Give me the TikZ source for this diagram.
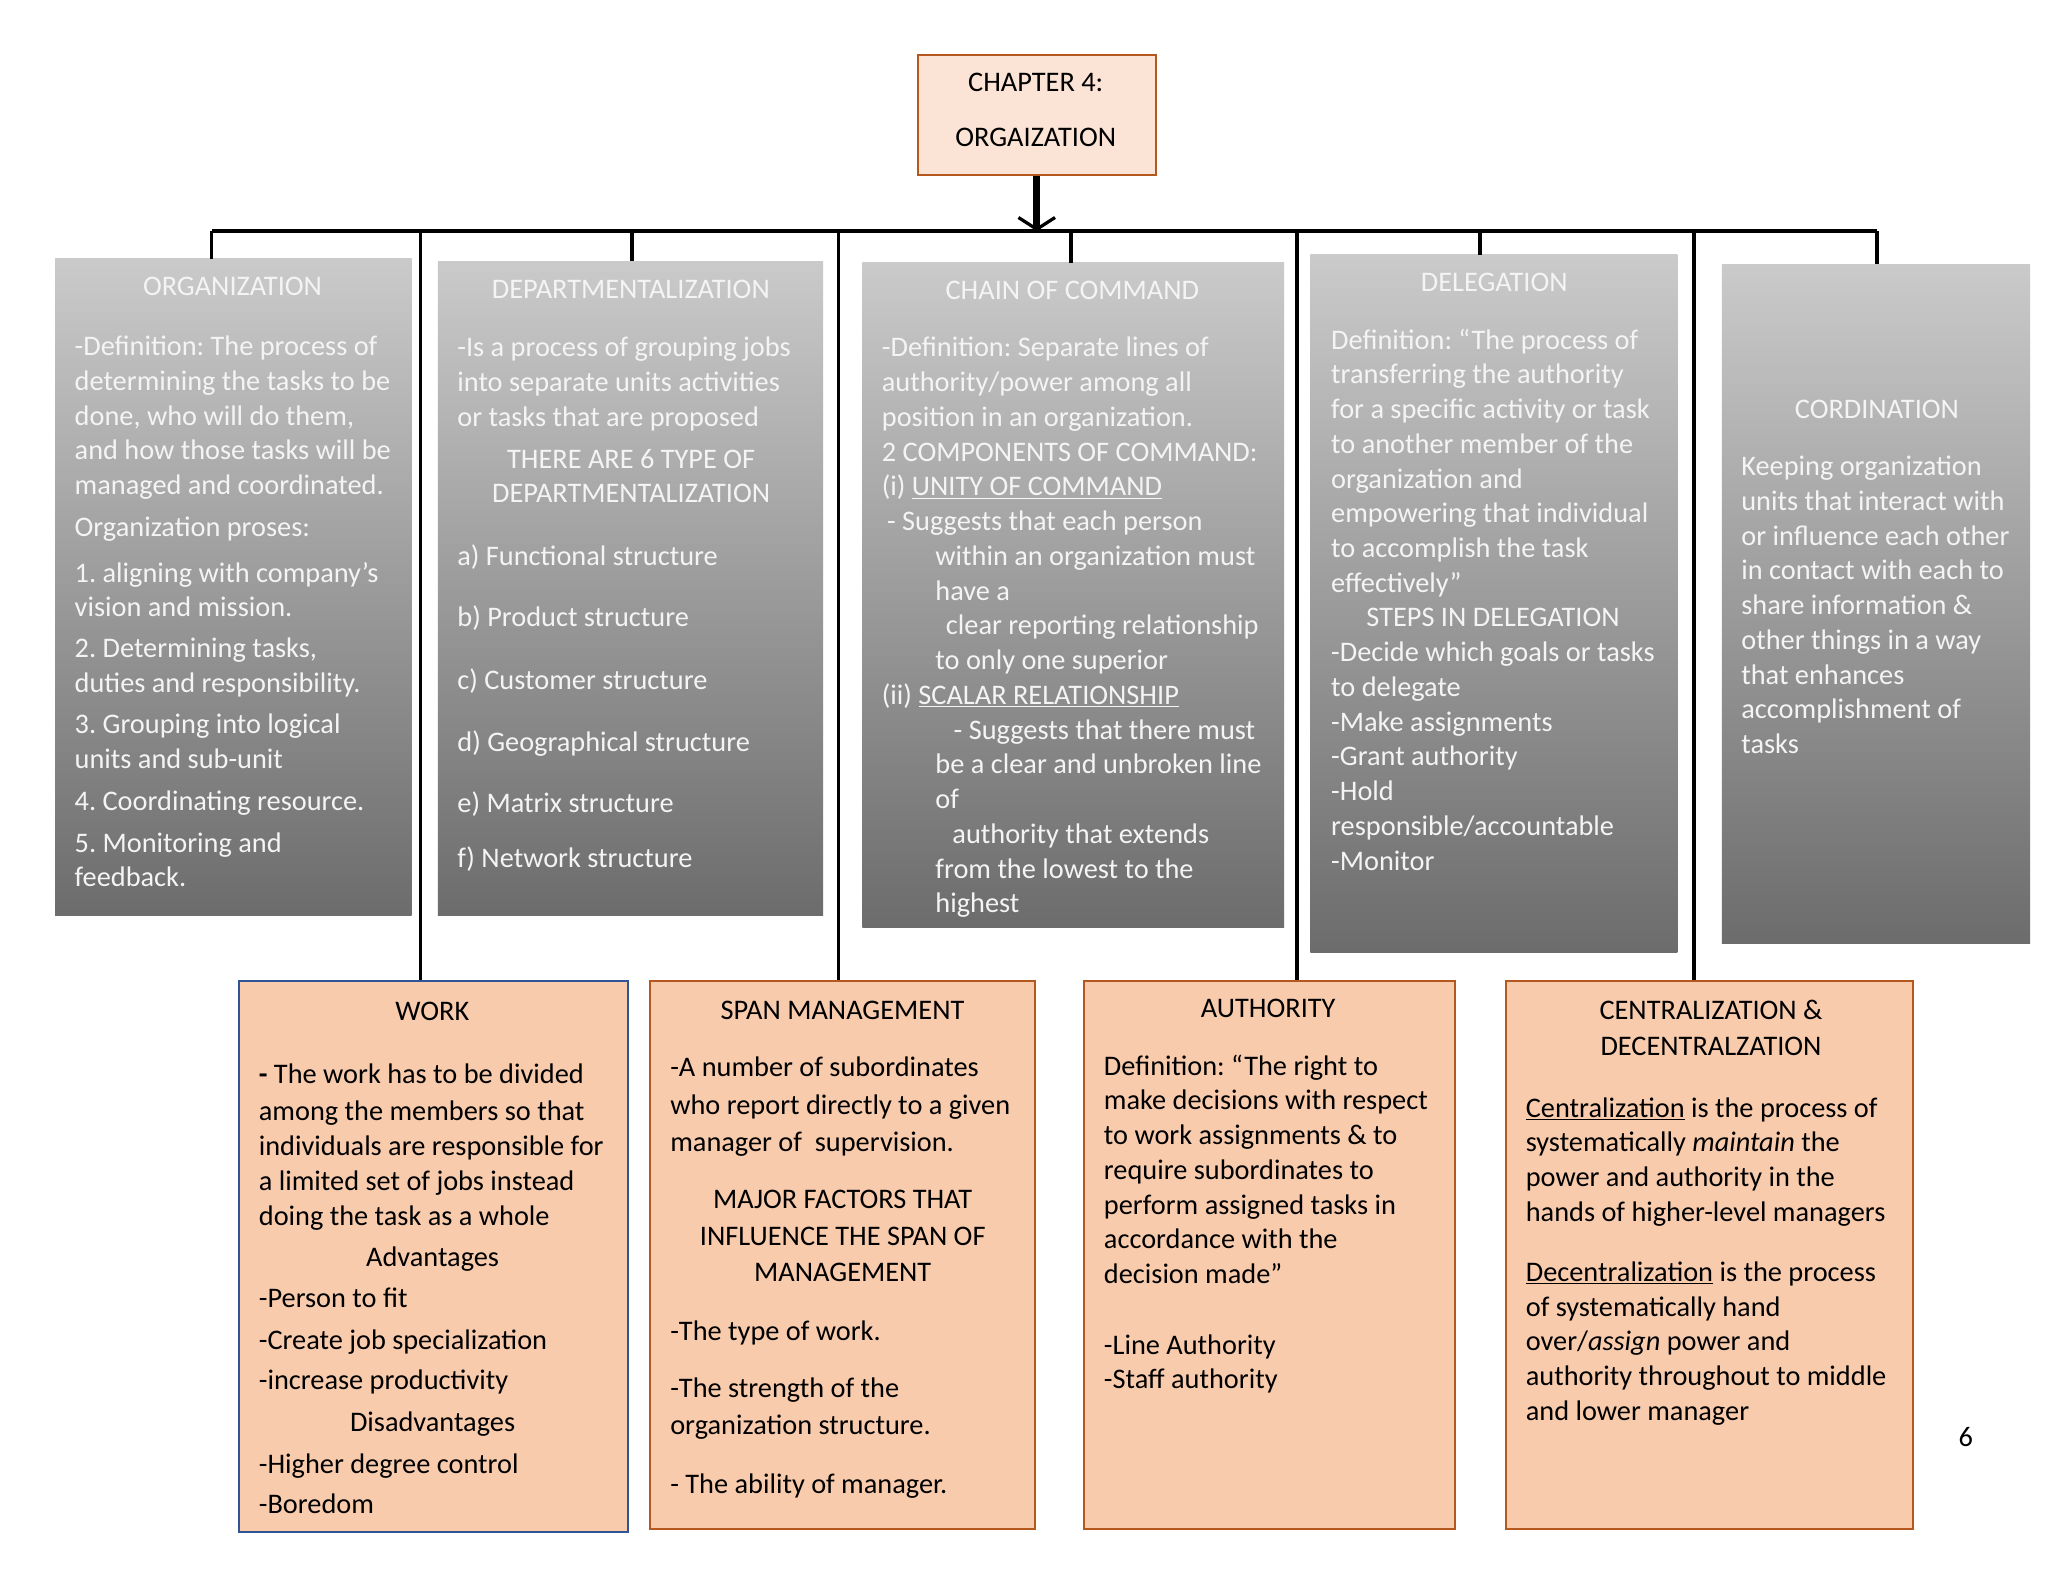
\documentclass[tikz,border=0pt]{standalone}
\usepackage{fontspec}
\setmainfont{Carlito}
\frenchspacing
\usetikzlibrary{arrows.meta}
\definecolor{peach}{HTML}{F8CBAD}
\definecolor{peachlight}{HTML}{FBE4D5}
\definecolor{rust}{HTML}{B4581E}
\definecolor{workblue}{HTML}{2F5597}
\definecolor{graytop}{HTML}{CACACA}
\definecolor{graybot}{HTML}{6C6C6C}
\definecolor{paletext}{HTML}{F4F4F4}
\newcommand{\bodysize}{\fontsize{21.7}{26.6}\selectfont}
\tikzset{
  graybox/.style={top color=graytop,bottom color=graybot,anchor=north west,inner sep=0pt},
  peachbox/.style={draw=rust,line width=1.5pt,fill=peach,anchor=north west,inner sep=0pt},
  boxtext/.style={anchor=north west,align=left,inner sep=0pt,font=\bodysize},
  boxhead/.style={anchor=north,align=center,inner sep=0pt,font=\bodysize},
  link/.style={line width=2.6pt}
}

\begin{document}
\begin{tikzpicture}[x=1pt,y=-1pt]
\fill[white] (0,0) rectangle (1568,1211);
\useasboundingbox (0,0) rectangle (1568,1211);

\node[peachbox,fill=peachlight,minimum width=182pt,minimum height=92pt] (title) at (702,41) {};
\node[boxhead] at (793,51.4) {\strut CHAPTER 4:\\[15.4pt]ORGAIZATION};

\node[graybox,minimum width=273pt,minimum height=503pt] (organization) at (42,198) {};
\node[graybox,minimum width=295pt,minimum height=501pt] (dept) at (335,200) {};
\node[graybox,minimum width=323pt,minimum height=509pt] (chain) at (660,201) {};
\node[graybox,minimum width=281pt,minimum height=534pt] (deleg) at (1003,195) {};
\node[graybox,minimum width=236pt,minimum height=520pt] (cord) at (1318,202) {};

\node[peachbox,draw=workblue,minimum width=298pt,minimum height=422pt] (work) at (182,750) {};
\node[peachbox,minimum width=295pt,minimum height=420pt] (span) at (497,750) {};
\node[peachbox,minimum width=284pt,minimum height=420pt] (authority) at (829,750) {};
\node[peachbox,minimum width=312pt,minimum height=420pt] (central) at (1152,750) {};

\coordinate (bus west) at (162,177);
\coordinate (bus east) at (1437,177);
\draw[line width=5pt,-{Straight Barb[length=9pt,width=28pt,line width=2.5pt]}] (title.south) -- (title.south |- bus west);
\draw[link] (bus west) -- (bus east);
\foreach \x/\b in {162/organization,484/dept,820/chain,1133/deleg,1437/cord}
  \draw[link] (\x,177) -- (\x,0 |- \b.north);
\foreach \x/\b in {322/work,642/span,993/authority,1297/central}
  \draw[link] (\x,177) -- (\x,0 |- \b.north);

\begin{scope}[text=paletext]
\node[boxhead] at (178,207.4) {\strut ORGANIZATION};
\node[boxtext] at (57,253.4) {\strut-Definition: The process of\\
determining the tasks to be\\
done, who will do them,\\
and how those tasks will be\\
managed and coordinated.\\[5.4pt]
Organization proses:\\[8.4pt]
1. aligning with company’s\\
vision and mission.\\[4.4pt]
2. Determining tasks,\\
duties and responsibility.\\[5.4pt]
3. Grouping into logical\\
units and sub-unit\\[5.4pt]
4. Coordinating resource.\\[5.4pt]
5. Monitoring and\\
feedback.};

\node[boxhead] at (483,209.4) {\strut DEPARTMENTALIZATION};
\node[boxtext] at (350,254.4) {\strut-Is a process of grouping jobs\\
into separate units activities\\
or tasks that are proposed\\[5.4pt]
\makebox[266pt]{THERE ARE 6 TYPE OF}\\
\makebox[266pt]{DEPARTMENTALIZATION}\\[21.4pt]
a) Functional structure\\[20.4pt]
b) Product structure\\[21.4pt]
c) Customer structure\\[20.4pt]
d) Geographical structure\\[20.4pt]
e) Matrix structure\\[15.4pt]
f) Network structure};

\node[boxhead] at (821,210.4) {\strut CHAIN OF COMMAND};
\node[boxtext] at (675,254.4) {\strut-Definition: Separate lines of\\
authority/power among all\\
position in an organization.\\
2 COMPONENTS OF COMMAND:\\
(i) \underline{UNITY OF COMMAND}\\
\hspace*{4pt}- Suggests that each person\\
\hspace*{41pt}within an organization must\\
\hspace*{41pt}have a\\
\hspace*{49pt}clear reporting relationship\\
\hspace*{41pt}to only one superior\\
(ii) \underline{SCALAR RELATIONSHIP}\\
\hspace*{55pt}- Suggests that there must\\
\hspace*{41pt}be a clear and unbroken line\\
\hspace*{41pt}of\\
\hspace*{54pt}authority that extends\\
\hspace*{41pt}from the lowest to the\\
\hspace*{41pt}highest};

\node[boxhead] at (1144,204.4) {\strut DELEGATION};
\node[boxtext] at (1019,248.4) {\strut Definition: “The process of\\
transferring the authority\\
for a specific activity or task\\
to another member of the\\
organization and\\
empowering that individual\\
to accomplish the task\\
effectively”\\
\hspace*{27pt}STEPS IN DELEGATION\\
-Decide which goals or tasks\\
to delegate\\
-Make assignments\\
-Grant authority\\
-Hold\\
responsible/accountable\\
-Monitor};

\node[boxhead] at (1437,301.4) {\strut CORDINATION};
\node[boxtext] at (1333,345.4) {\strut Keeping organization\\
units that interact with\\
or influence each other\\
in contact with each to\\
share information \&\\
other things in a way\\
that enhances\\
accomplishment of\\
tasks};
\end{scope}

\node[boxhead] at (331,762.4) {\strut WORK};
\node[boxtext] at (198,810.4) {\strut\textbf{-} The work has to be divided\\[2.4pt]
among the members so that\\
individuals are responsible for\\
a limited set of jobs instead\\
doing the task as a whole\\[5.4pt]
\makebox[266pt]{Advantages}\\[4.4pt]
-Person to fit\\[5.4pt]
-Create job specialization\\[4.4pt]
-increase productivity\\[5.4pt]
\makebox[266pt]{Disadvantages}\\[5.4pt]
-Higher degree control\\[4.4pt]
-Boredom};

\node[boxhead] at (645,761.4) {\strut SPAN MANAGEMENT};
\node[boxtext] at (513,805.4) {\strut-A number of subordinates\\[2.4pt]
who report directly to a given\\[1.4pt]
manager of\ \ supervision.\\[17.4pt]
\makebox[264pt]{MAJOR FACTORS THAT}\\[1.4pt]
\makebox[264pt]{INFLUENCE THE SPAN OF}\\[1.4pt]
\makebox[264pt]{MANAGEMENT}\\[18.4pt]
-The type of work.\\[17.4pt]
-The strength of the\\[1.4pt]
organization structure.\\[18.4pt]
- The ability of manager.};

\node[boxhead] at (971,760.4) {\strut AUTHORITY};
\node[boxtext] at (845,804.4) {\strut Definition: “The right to\\
make decisions with respect\\
to work assignments \& to\\
require subordinates to\\
perform assigned tasks in\\
accordance with the\\
decision made”\\[27.4pt]
-Line Authority\\
-Staff authority};

\node[boxhead] at (1310,761.4) {\strut CENTRALIZATION \&\\[1.4pt]DECENTRALZATION};
\node[boxtext] at (1168,836.4) {\strut\underline{Centralization} is the process of\\
systematically \textit{maintain} the\\
power and authority in the\\
hands of higher-level managers\\[19.4pt]
\underline{Decentralization} is the process\\
of systematically hand\\
over/\textit{assign} power and\\
authority throughout to middle\\
and lower manager};

\node[font=\bodysize] (page) at (1505,1100) {6};
\end{tikzpicture}
\end{document}
